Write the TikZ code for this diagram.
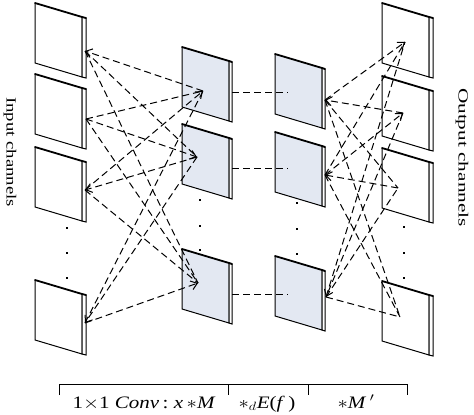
\documentclass[tikz,border=0pt]{standalone}
\usepackage{fontspec}
\setmainfont{Liberation Serif}
\usetikzlibrary{arrows.meta}
\definecolor{slabblue}{HTML}{E3E8F2}
\tikzset{
  slabline/.style={line width=1pt, line join=miter},
  topline/.style={line width=1.8pt, line cap=round},
  dl/.style={line width=1pt, dash pattern=on 7pt off 4pt},
  dla/.style={dl, -{Straight Barb[length=6pt,width=9pt]}},
  bracket/.style={line width=1pt},
  lbl/.style={inner sep=0pt, anchor=base, font=\fontsize{17.5}{17.5}\selectfont},
  sidelbl/.style={inner sep=0pt, rotate=-90, font=\fontsize{14}{14}\selectfont},
  dotmark/.style={fill=black}
}
\newcommand\slab[4]{%
  \coordinate (#1) at #2;
  \fill[#3] (#1) -- ++(47,14) -- ++(0,60) -- ++(-47,-14) -- cycle;
  \draw[slabline] (#1) -- ++(0,60) -- ++(47,14) -- ++(0,-60);
  \draw[slabline, fill=white] ([shift={(47,14)}]#1) -- ++(#4,1) -- ++(0,60) -- ++(-#4,-1) -- cycle;
  \draw[topline] (#1) -- ++(47,14) -- ++(#4,1);
}
\newcommand\dotm[2]{\fill[dotmark] (#1-1,#2-1) rectangle ++(2.2,2.2);}
\begin{document}
\begin{tikzpicture}[x=1pt,y=-1pt]
\useasboundingbox (0,0) rectangle (474,415);
% input slabs
\slab{I1}{(35,3)}{white}{4}
\slab{I2}{(35,74)}{white}{4}
\slab{I3}{(35,147)}{white}{4}
\slab{I4}{(35,280)}{white}{4}
% left blue
\slab{B1}{(182,47)}{slabblue}{3}
\slab{B2}{(182,124)}{slabblue}{3}
\slab{B3}{(182,249)}{slabblue}{3}
% right blue
\slab{R1}{(275,54)}{slabblue}{3}
\slab{R2}{(275,132)}{slabblue}{3}
\slab{R3}{(275,256)}{slabblue}{3}
% output slabs
\slab{O1}{(382,3)}{white}{4}
\slab{O2}{(382,76)}{white}{4}
\slab{O3}{(382,148)}{white}{4}
\slab{O4}{(382,281)}{white}{4}
% dots
\dotm{67}{228}\dotm{67}{253}\dotm{67}{278}
\dotm{200}{200}\dotm{200}{226}\dotm{200}{250}
\dotm{297}{203}\dotm{297}{229}\dotm{297}{254}
\dotm{404}{227}\dotm{404}{253}\dotm{404}{278}
% connection points
\coordinate (in1) at (85,51);
\coordinate (in2) at (86,119);
\coordinate (in3) at (85,190);
\coordinate (in4) at (85,323);
\coordinate (b1) at (203,91);
\coordinate (b2) at (197,157);
\coordinate (b3) at (198,283);
\coordinate (rb1) at (325,100);
\coordinate (rb2) at (325,175);
\coordinate (rb3) at (326,297);
\coordinate (o1) at (405,42);
\coordinate (o2) at (403,113);
\coordinate (o3) at (398,188);
\coordinate (o4) at (400,317);
\coordinate (h1a) at (232,92);  \coordinate (h1b) at (288,92);
\coordinate (h2a) at (232,168); \coordinate (h2b) at (288,168);
\coordinate (h3a) at (232,294); \coordinate (h3b) at (288,294);
% left connectors
\draw[dla] (b1) -- (in1);
\draw[dl] (in1) -- (b2);
\draw[dl] (in1) -- (b3);
\draw[dl] (in2) -- (b1);
\draw[dla] (in2) -- (b2);
\draw[dl] (in2) -- (b3);
\draw[dla] (in3) -- (b1);
\draw[dla] (b2) -- (in3);
\draw[dl] (in3) -- (b3);
\draw[dl] (in4) -- (b1);
\draw[dla] (b2) -- (in4);
\draw[dla] (in4) -- (b3);
% middle connectors
\draw[dl] (h1a) -- (h1b);
\draw[dl] (h2a) -- (h2b);
\draw[dl] (h3a) -- (h3b);
% right connectors
\draw[dla] (rb1) -- (o1);
\draw[dla] (o2) -- (rb1);
\draw[dl] (rb1) -- (o3);
\draw[dl] (rb1) -- (o4);
\draw[dl] (rb2) -- (o1);
\draw[dla] (rb2) -- (o2);
\draw[dla] (o3) -- (rb2);
\draw[dl] (rb2) -- (o4);
\draw[dl] (rb3) -- (o1);
\draw[dla] (o2) -- (rb3);
\draw[dl] (rb3) -- (o3);
\draw[dl] (rb3) -- (o4);
% bracket
\coordinate (k0) at (59,384); \coordinate (k1) at (228,384);
\coordinate (k2) at (308,384); \coordinate (k3) at (407,384);
\draw[bracket] ([yshift=-11pt]k0) -- (k0) -- (k3) -- ([yshift=-11pt]k3);
\draw[bracket] (k1) -- ([yshift=-11pt]k1);
\draw[bracket] (k2) -- ([yshift=-11pt]k2);
% labels
\node[lbl] (L1) at (144,408) {\scalebox{1.2}[1]{1$\times$1\ \textit{Conv}\,:\ \textit{x}\,$*$\textit{M}}};
\node[lbl] (L2) at (267,408) {\scalebox{1.2}[1]{$*_{d}$\textit{E}(\textit{f}\,)}};
\node[lbl] (L3) at (356,408) {\scalebox{1.2}[1]{$*$\textit{M}\,$'$}};
\node[sidelbl] (IC) at (10,152) {\scalebox{1.34}[1]{Input channels}};
\node[sidelbl] (OC) at (462,157.5) {\scalebox{1.52}[1]{Output channels}};
\end{tikzpicture}
\end{document}
